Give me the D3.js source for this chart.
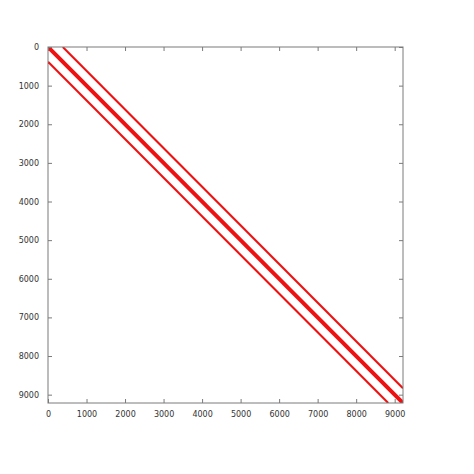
<!DOCTYPE html>
<html>
<head>
<meta charset="utf-8">
<script src="https://cdn.jsdelivr.net/npm/d3@7"></script>
<style>
  body { margin: 0; background: #fff; }
  text { font-family: "DejaVu Sans", sans-serif; }
</style>
</head>
<body>
<svg></svg>
<script>
const width = 474
const height = 474

// matrix size (96 x 96 grid -> 9216 unknowns) and the non-zero diagonals
const matrixSize = 9216
const diagonals = [-384, 0, 384]
const tickValues = [0, 1000, 2000, 3000, 4000, 5000, 6000, 7000, 8000, 9000]

const svg = d3.select('svg')
  .attr('width', width)
  .attr('height', height)

const x = d3.scaleLinear().domain([0, matrixSize]).range([48, 403])
const y = d3.scaleLinear().domain([0, matrixSize]).range([47, 403])

svg.append('clipPath').attr('id', 'plot-clip')
  .append('rect')
  .attr('x', x(0)).attr('y', y(0))
  .attr('width', x(matrixSize) - x(0))
  .attr('height', y(matrixSize) - y(0))

// each diagonal k holds entries (i, i + k)
function segment(k) {
  if (k >= 0) return { x1: k, y1: 0, x2: matrixSize, y2: matrixSize - k }
  return { x1: 0, y1: -k, x2: matrixSize + k, y2: matrixSize }
}

svg.append('g')
  .attr('clip-path', 'url(#plot-clip)')
  .selectAll('line')
  .data(diagonals)
  .enter()
  .append('line')
  .attr('x1', d => x(segment(d).x1))
  .attr('y1', d => y(segment(d).y1))
  .attr('x2', d => x(segment(d).x2))
  .attr('y2', d => y(segment(d).y2))
  .attr('stroke', '#ee1111')
  .attr('stroke-width', d => d === 0 ? 4 : 2.1)

const frameColor = '#7a7a7a'
const tickLen = 4

const axisStyle = g => {
  g.select('.domain').remove()
  g.selectAll('.tick line').attr('stroke', frameColor)
  g.selectAll('.tick text').attr('fill', '#333').style('font-size', '8px')
}

// ticks point inwards on all four sides
svg.append('g')
  .attr('transform', `translate(0,${y(matrixSize)})`)
  .call(d3.axisBottom(x).tickValues(tickValues).tickFormat(d3.format('d')).tickSizeInner(-tickLen).tickSizeOuter(0).tickPadding(8))
  .call(axisStyle)

svg.append('g')
  .attr('transform', `translate(${x(0)},0)`)
  .call(d3.axisLeft(y).tickValues(tickValues).tickFormat(d3.format('d')).tickSizeInner(-tickLen).tickSizeOuter(0).tickPadding(9))
  .call(axisStyle)

svg.append('g')
  .attr('transform', `translate(0,${y(0)})`)
  .call(d3.axisTop(x).tickValues(tickValues).tickFormat('').tickSizeInner(-tickLen).tickSizeOuter(0))
  .call(axisStyle)

svg.append('g')
  .attr('transform', `translate(${x(matrixSize)},0)`)
  .call(d3.axisRight(y).tickValues(tickValues).tickFormat('').tickSizeInner(-tickLen).tickSizeOuter(0))
  .call(axisStyle)

svg.append('rect')
  .attr('x', x(0)).attr('y', y(0))
  .attr('width', x(matrixSize) - x(0))
  .attr('height', y(matrixSize) - y(0))
  .attr('fill', 'none')
  .attr('stroke', frameColor)
  .attr('stroke-width', 1)
</script>
</body>
</html>
